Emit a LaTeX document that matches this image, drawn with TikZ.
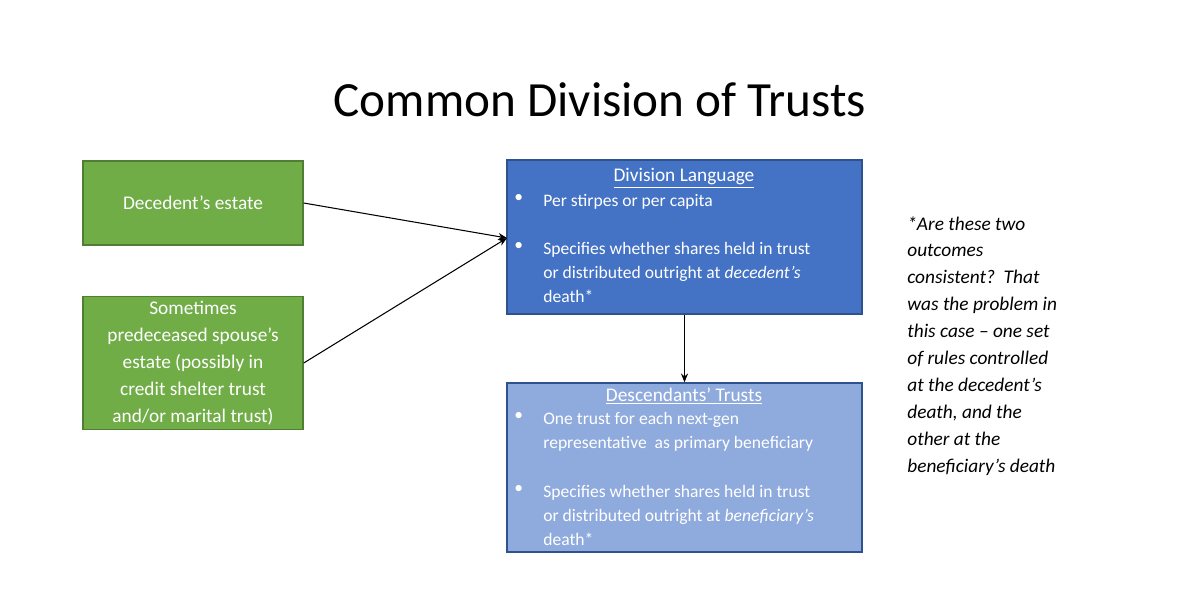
\documentclass[tikz,border=0pt]{standalone}
\usepackage{fontspec}
\setmainfont{Carlito}
\usetikzlibrary{arrows.meta}
\definecolor{gfill}{HTML}{70AD47}\definecolor{gline}{HTML}{507E32}
\definecolor{bfill}{HTML}{4472C4}\definecolor{bline}{HTML}{2F528F}
\definecolor{lfill}{HTML}{8FAADC}
\begin{document}
\begin{tikzpicture}[x=0.02cm,y=-0.02cm,
 gbox/.style={draw=gline,fill=gfill,line width=0.8pt,text=white,font=\fontsize{11}{15.3}\selectfont,align=center,inner sep=0pt},
 bbox/.style={draw=bline,fill=#1,line width=0.8pt,inner sep=0pt},
 wtxt/.style={text=white,font=\fontsize{10}{13.6}\selectfont,align=left,inner sep=0pt,anchor=north west},
 htxt/.style={text=white,font=\fontsize{11}{13}\selectfont,inner sep=0pt},
 arr/.style={-{Stealth[length=5pt,width=4pt]},line width=0.6pt}]
\useasboundingbox (0,0) rectangle (1200,600);
\node[font=\fontsize{28}{30}\selectfont] (title) at (600,100) {Common Division of Trusts};
\node[gbox,minimum width=220*0.02cm,minimum height=84*0.02cm] (g1) at (193,203) {Decedent’s estate};
\node[gbox,minimum width=220*0.02cm,minimum height=133*0.02cm] (g2) at (193,363) {Sometimes\\predeceased spouse’s\\estate (possibly in\\credit shelter trust\\and/or marital trust)};
\node[bbox=bfill,minimum width=355*0.02cm,minimum height=154*0.02cm] (b1) at (684.5,237) {};
\node[bbox=lfill,minimum width=355*0.02cm,minimum height=169*0.02cm] (b2) at (684.5,467.5) {};
\node[htxt] (h1) at (684,178) {\underline{Division Language}};
\node[wtxt] (b1a) at (514,194) {•};
\node[wtxt] (b1at) at (543,194) {Per stirpes or per capita};
\node[wtxt] (b1b) at (514,242) {•};
\node[wtxt] (b1bt) at (543,242) {Specifies whether shares held in trust\\or distributed outright at \textit{decedent’s}\\death*};
\node[htxt] (h2) at (684,396) {\underline{Descendants’ Trusts}};
\node[wtxt] (b2a) at (514,412) {•};
\node[wtxt] (b2at) at (543,412) {One trust for each next-gen\\representative\ \ as primary beneficiary};
\node[wtxt] (b2b) at (514,485) {•};
\node[wtxt] (b2bt) at (543,485) {Specifies whether shares held in trust\\or distributed outright at \textit{beneficiary’s}\\death*};
\node[font=\itshape\fontsize{11}{15.3}\selectfont,align=left,anchor=north west,inner sep=0pt] (note) at (907,216) {*Are these two\\outcomes\\consistent?\ \ That\\was the problem in\\this case – one set\\of rules controlled\\at the decedent’s\\death, and the\\other at the\\beneficiary’s death};
\coordinate (t) at (507,238);
\draw[arr] (g1.east) -- (t);
\draw[arr] (g2.east) -- (t);
\draw[arr] (b1.south) -- (b2.north);
\end{tikzpicture}
\end{document}
